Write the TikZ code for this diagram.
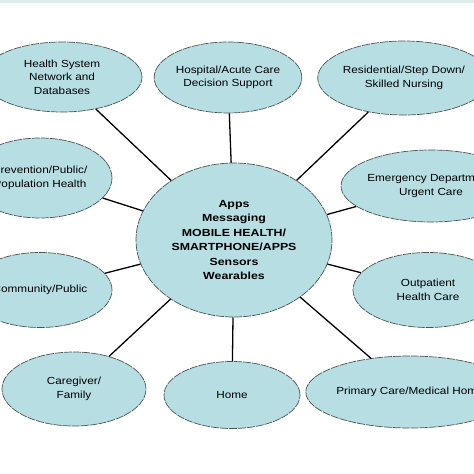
\documentclass[tikz,border=0pt]{standalone}
\usepackage{fontspec}
\setmainfont{Liberation Sans}[FakeStretch=1.14]
\newfontfamily\centerfont{Liberation Sans}[FakeStretch=1.2]
\usetikzlibrary{shapes.geometric}
\definecolor{bubble}{HTML}{B7DEE3}
\definecolor{rim}{HTML}{4A5456}
\definecolor{strip}{HTML}{DDEDED}
\tikzset{
  bub/.style={ellipse, draw=rim, line width=0.7pt, dash pattern=on 8pt off 1pt,
    fill=bubble, inner sep=0pt, align=center, text=black,
    font=\fontsize{10.3}{13.5}\selectfont},
  link/.style={draw=black, line width=1.3pt}
}
\begin{document}
\begin{tikzpicture}[x=1pt,y=-1pt]
\useasboundingbox (0,0) rectangle (474,474);
\clip (0,0) rectangle (474,474);
\fill[white] (0,0) rectangle (474,474);
\fill[strip] (0,0) rectangle (474,3);
\node[bub, minimum width=196pt, minimum height=154pt,
  font=\centerfont\bfseries\fontsize{10.3}{14.5}\selectfont] (c) at (234,240)
  {Apps\\Messaging\\MOBILE HEALTH/\\SMARTPHONE/APPS\\Sensors\\Wearables};
\node[bub, minimum width=160pt, minimum height=70pt] (hs) at (62,77) {Health System\\Network and\\Databases};
\node[bub, minimum width=140pt, minimum height=71pt] (hosp) at (228,77.5) {Hospital/Acute Care\\Decision Support};
\node[bub, minimum width=170pt, minimum height=74pt] (res) at (404,78) {Residential/Step Down/\\Skilled Nursing};
\node[bub, minimum width=144pt, minimum height=80pt] (prev) at (40,178) {Prevention/Public/\\Population Health};
\node[bub, minimum width=144pt, minimum height=72pt] (emer) at (431,186) {Emergency Department/\\Urgent Care};
\node[bub, minimum width=144pt, minimum height=75pt] (comm) at (40,290) {Community/Public};
\node[bub, minimum width=150pt, minimum height=75pt] (outp) at (428,290) {Outpatient\\Health Care};
\node[bub, minimum width=144pt, minimum height=74pt] (care) at (74,389) {Caregiver/\\Family};
\node[bub, minimum width=136pt, minimum height=67pt] (home) at (232,395) {Home};
\node[bub, minimum width=164pt, minimum height=72pt] (prim) at (410,392) {Primary Care/Medical Home};
\foreach \n in {hs,hosp,res,prev,emer,comm,outp,care,home,prim}
  \draw[link] (c) -- (\n);
\end{tikzpicture}
\end{document}
